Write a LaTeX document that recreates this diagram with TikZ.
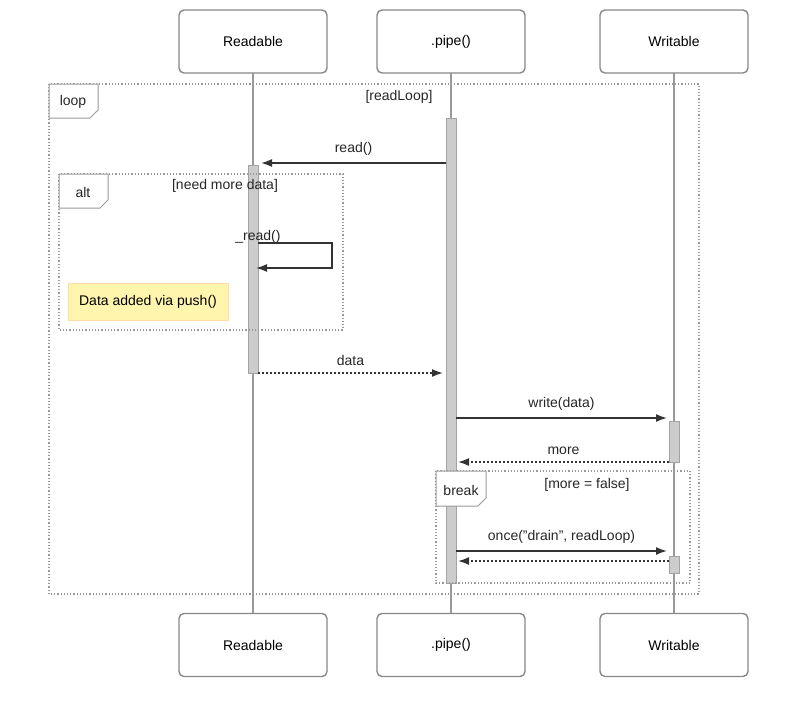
\documentclass[tikz,border=0pt]{standalone}
\usepackage{fontspec}
\setmainfont{Liberation Sans}
\usetikzlibrary{arrows.meta}
\definecolor{LineGray}{HTML}{999999}
\definecolor{BoxGray}{HTML}{888888}
\definecolor{ActGray}{HTML}{CCCCCC}
\definecolor{NoteYellow}{HTML}{FFF5AD}
\tikzset{
    actor/.style = {draw=BoxGray, rounded corners=5pt, fill=white, line width=1.4pt,
        minimum width=148pt, minimum height=63pt, font=\fontsize{14}{16}\selectfont},
    act/.style = {draw=ActGray!80!black, fill=ActGray, line width=0.8pt},
    frame/.style = {draw=LineGray, dotted, line width=1.2pt},
    msg/.style = {-{Latex[length=11pt,width=8pt]}, line width=1.6pt, draw=black!80},
    ret/.style = {msg, dash pattern=on 2pt off 2pt},
    lbl/.style = {font=\fontsize{14}{16}\selectfont, text=black!85},
    tab/.style = {draw=LineGray, fill=white, line width=1pt},
    note/.style = {draw=NoteYellow!60!orange!60, fill=NoteYellow, line width=1pt,
        minimum width=160pt, minimum height=37pt, font=\fontsize{14}{16}\selectfont}
}
\begin{document}
\begin{tikzpicture}[x=1pt, y=-1pt]
    \useasboundingbox (0,0) rectangle (800,720);
    % lifelines
    \draw[LineGray, line width=1.6pt] (253,73) -- (253,613);
    \draw[LineGray, line width=1.6pt] (451,73) -- (451,613);
    \draw[LineGray, line width=1.6pt] (674,73) -- (674,613);
    % participants
    \foreach \x/\n/\t in {253/rd/Readable, 451/pp/.pipe(), 674/wr/Writable}{
        \node[actor] (\n top) at (\x,41.5) {\t};
        \node[actor] (\n bot) at (\x,645) {\t};
    }
    % loop frame
    \draw[frame] (49,84) rectangle (699,594);
    \draw[tab] (49,84) -- (98,84) -- (98,110) -- (90,118) -- (49,118) -- cycle;
    \node[lbl] (looplbl) at (73,102) {loop};
    \node[lbl] (loopcond) at (399,97) {[readLoop]};
    % activations
    \draw[act] (446,118) rectangle (456,583);
    \draw[act] (248,165) rectangle (258,373);
    \draw[act] (669,421) rectangle (679,462);
    \draw[act] (669,556) rectangle (679,573);
    \coordinate (pR) at (446,163);
    \coordinate (rR) at (261,163);
    \draw[msg] (pR) -- node[lbl, above=3pt] (readlbl) {read()} (rR);
    % alt frame
    \draw[frame] (59,174) rectangle (343,330);
    \draw[tab] (59,174) -- (108,174) -- (108,200) -- (100,208) -- (59,208) -- cycle;
    \node[lbl] (altlbl) at (83,192) {alt};
    \node[lbl] (altcond) at (225,186) {[need more data]};
    \coordinate (s1) at (258,243);
    \coordinate (s2) at (256,268);
    \draw[msg] (s1) -- (332,243) -- (332,268) -- (s2);
    \node[lbl] (selflbl) at (258,237) {\_read()};
    \node[note] (push) at (148,301.5) {Data added via push()};
    % data
    \coordinate (dA) at (258,373);
    \coordinate (dB) at (443,373);
    \draw[ret] (dA) -- node[lbl, above=3pt] (datalbl) {data} (dB);
    % write
    \coordinate (wA) at (456,418);
    \coordinate (wB) at (667,418);
    \draw[msg] (wA) -- node[lbl, above=3pt] (writelbl) {write(data)} (wB);
    \coordinate (mA) at (669,462);
    \coordinate (mB) at (458,462);
    \draw[ret] (mA) -- node[lbl, above=3pt] (morelbl) {more} (mB);
    % break frame
    \draw[frame] (436,471) rectangle (690,583);
    \draw[tab] (436,471) -- (486,471) -- (486,498) -- (478,506) -- (436,506) -- cycle;
    \node[lbl] (brklbl) at (461,490) {break};
    \node[lbl] (brkcond) at (587,485) {[more = false]};
    \coordinate (oA) at (456,551);
    \coordinate (oB) at (667,551);
    \draw[msg] (oA) -- node[lbl, above=3pt] (oncelbl) {once("drain", readLoop)} (oB);
    \coordinate (eA) at (669,561);
    \coordinate (eB) at (458,561);
    \draw[ret] (eA) -- (eB);
\end{tikzpicture}
\end{document}
